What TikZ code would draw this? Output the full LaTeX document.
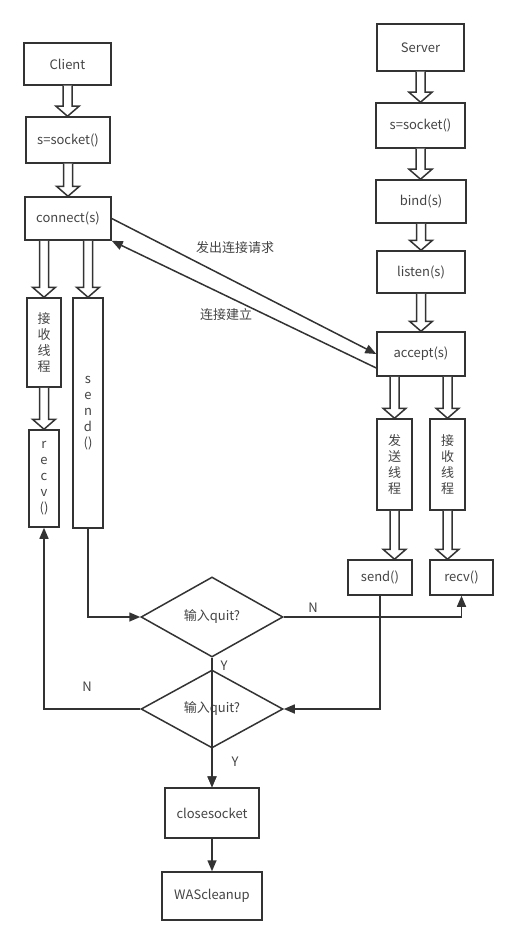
\documentclass[tikz,border=0pt]{standalone}
\usepackage{fontspec}
\setmainfont{Noto Sans CJK SC}
\usetikzlibrary{arrows.meta,shapes.geometric,calc}
\definecolor{ink}{HTML}{333333}
\definecolor{txt}{HTML}{444444}
\tikzset{
 box/.style={draw=ink,line width=1.5pt,rectangle,inner sep=0pt,text=txt,align=center},
 dia/.style={draw=ink,line width=1.5pt,diamond,inner sep=0pt,text=txt,minimum width=142pt,minimum height=80pt},
 conn/.style={draw=ink,line width=1.5pt,-{Triangle[length=11pt,width=9pt]}},
 lbl/.style={text=txt,inner sep=0pt},
 fat/.style={draw=ink,line width=1.5pt,fill=white,line join=miter},
}
\newcommand\fatarrow[2]{\path[fat] let \p1=#1, \p2=#2 in
 ({\x1-4.5pt},\y1) -- ({\x1-4.5pt},{\y2+10pt}) -- ({\x1-11.5pt},{\y2+10pt}) -- (\x1,\y2)
 -- ({\x1+11.5pt},{\y2+10pt}) -- ({\x1+4.5pt},{\y2+10pt}) -- ({\x1+4.5pt},\y1);}
\begin{document}
\begin{tikzpicture}[x=1pt,y=-1pt,font=\fontsize{13}{16}\selectfont]
\fill[white] (0,0) rectangle (518,944);
\useasboundingbox (0,0) rectangle (518,944);
% client side
\node[box,minimum width=87pt,minimum height=42pt] (client) at (67.5,64) {Client};
\node[box,minimum width=84pt,minimum height=46pt] (csock) at (68,140) {s=socket()};
\node[box,minimum width=86pt,minimum height=43pt] (connect) at (68,218.5) {connect(s)};
\node[box,minimum width=34pt,minimum height=89pt] (thrL) at (44,342.5) {接\\收\\线\\程};
\node[box,minimum width=30pt,minimum height=230pt] (sendL) at (88,413) {s\\e\\n\\d\\()};
\node[box,minimum width=30pt,minimum height=97pt] (recvL) at (44,478.5) {r\\e\\c\\v\\()};
% server side
\node[box,minimum width=87pt,minimum height=47pt] (server) at (420.5,47.5) {Server};
\node[box,minimum width=89pt,minimum height=45pt] (ssock) at (420.5,125.5) {s=socket()};
\node[box,minimum width=90pt,minimum height=43pt] (bind) at (421,201.5) {bind(s)};
\node[box,minimum width=88pt,minimum height=42pt] (listen) at (421,272) {listen(s)};
\node[box,minimum width=88pt,minimum height=44pt] (accept) at (421,354) {accept(s)};
\node[box,minimum width=35pt,minimum height=91pt] (sendT) at (394.5,464.5) {发\\送\\线\\程};
\node[box,minimum width=35pt,minimum height=91pt] (recvT) at (447.5,464.5) {接\\收\\线\\程};
\node[box,minimum width=64pt,minimum height=35pt] (sendR) at (380,577.5) {send()};
\node[box,minimum width=63pt,minimum height=35pt] (recvR) at (461.5,577.5) {recv()};
% decisions
\node[dia] (d1) at (212,617) {输入quit?};
\node[dia,minimum height=78pt] (d2) at (212,709) {输入quit?};
\node[box,minimum width=94pt,minimum height=50pt] (close) at (212,813) {closesocket};
\node[box,minimum width=100pt,minimum height=48pt] (wsa) at (212,896) {WAScleanup};
% fat arrows
\fatarrow{(client.south)}{(csock.north)}
\fatarrow{(csock.south)}{(connect.north)}
\fatarrow{(connect.south -| thrL.north)}{(thrL.north)}
\fatarrow{(connect.south -| sendL.north)}{(sendL.north)}
\fatarrow{(thrL.south)}{(recvL.north)}
\fatarrow{(server.south)}{(ssock.north)}
\fatarrow{(ssock.south)}{(bind.north)}
\fatarrow{(bind.south)}{(listen.north)}
\fatarrow{(listen.south)}{(accept.north)}
\fatarrow{(accept.south -| sendT.north)}{(sendT.north)}
\fatarrow{(accept.south -| recvT.north)}{(recvT.north)}
\fatarrow{(sendT.south)}{(sendT.south |- sendR.north)}
\fatarrow{(recvT.south)}{(recvT.south |- recvR.north)}
% thin connectors
\draw[conn] (connect.east) -- (accept.west);
\draw[conn] ([yshift=-14pt]accept.west) -- (connect.south east);
\node[lbl] (l1) at (235,248) {发出连接请求};
\node[lbl] (l2) at (226,315) {连接建立};
\draw[conn] (sendL.south) |- (d1.west);
\draw[conn] (d1.east) -| (recvR.south);
\node[lbl] (n1) at (313,608) {N};
\draw[conn] (sendR.south) |- (d2.east);
\draw[conn] (d2.west) -| (recvL.south);
\node[lbl] (n2) at (87,687) {N};
\draw[conn] (d1.south) -- (close.north);
\draw[conn] (d2.south) -- (close.north);
\node[lbl] (y1) at (224,666) {Y};
\node[lbl] (y2) at (235,762) {Y};
\draw[conn] (close.south) -- (wsa.north);
\end{tikzpicture}
\end{document}
